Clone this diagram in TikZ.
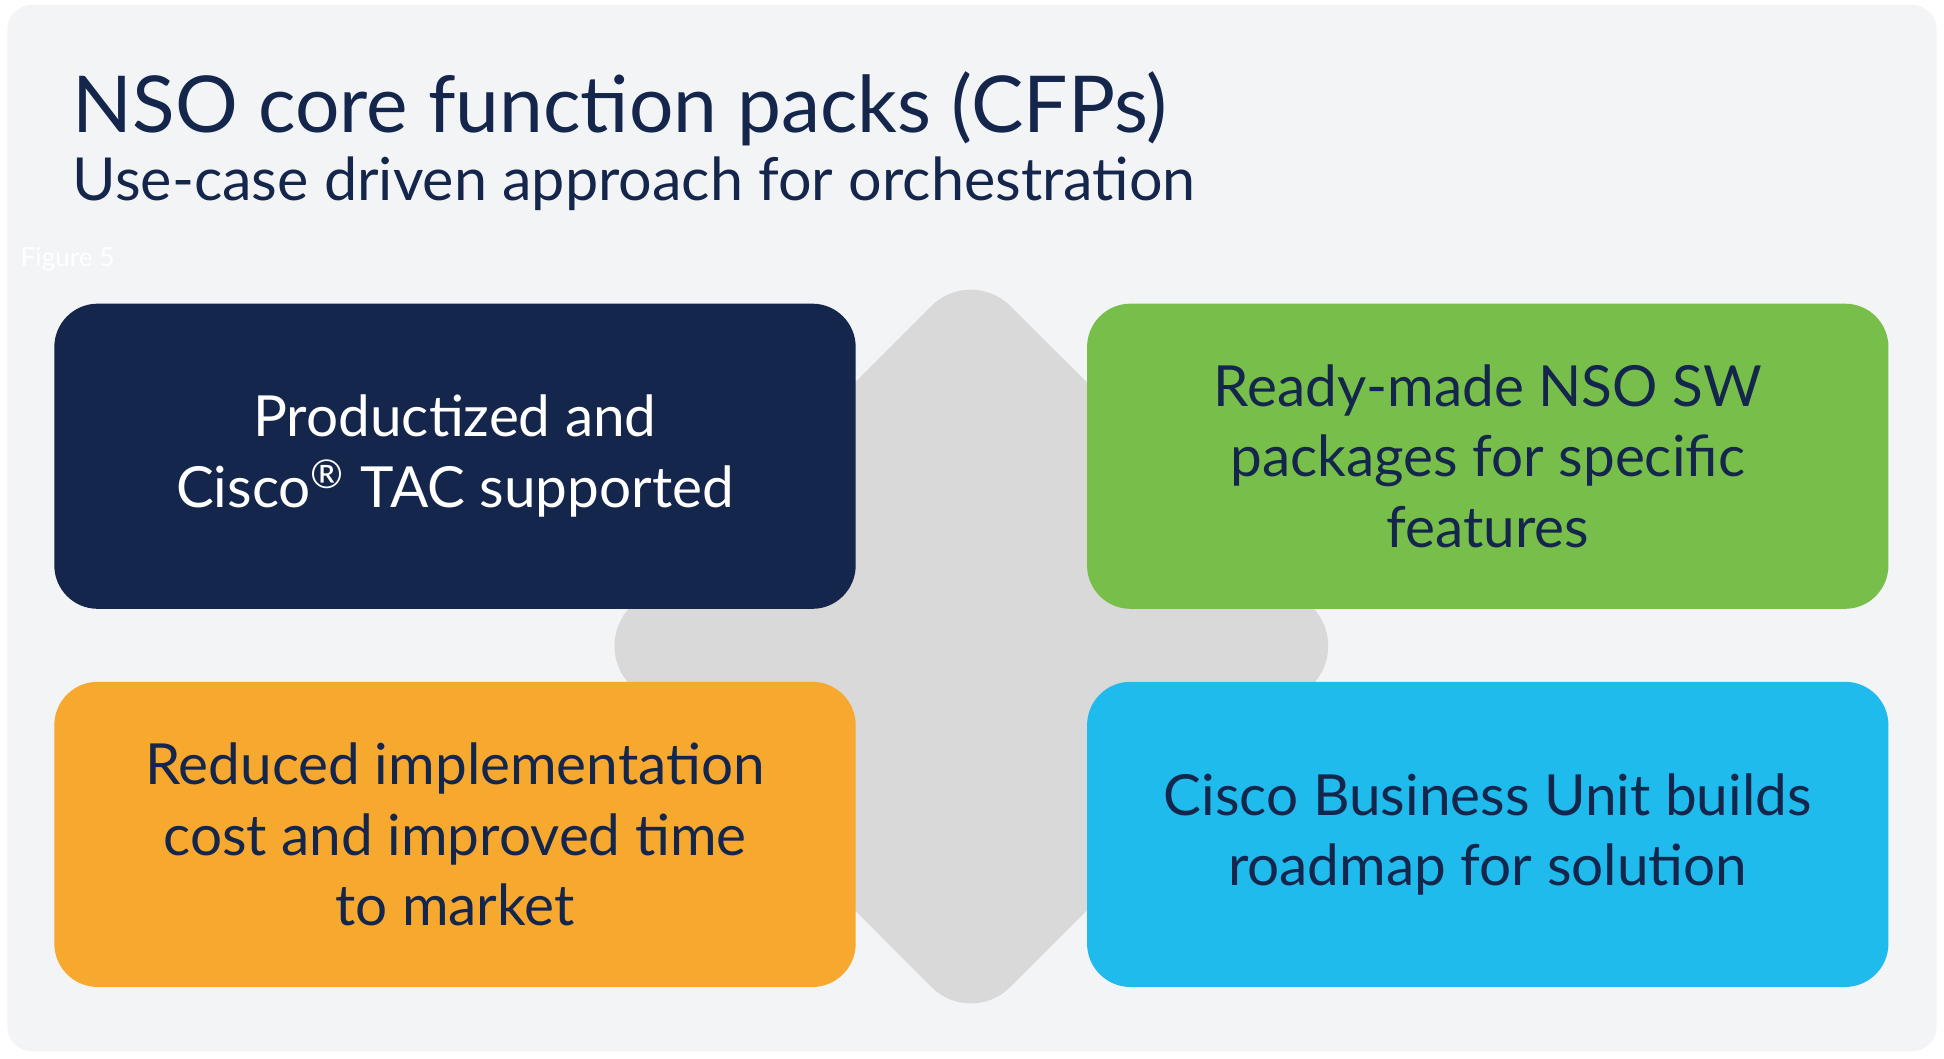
\documentclass[tikz,border=0pt]{standalone}
\usepackage{fontspec}
\setmainfont{Lato}
\definecolor{bgc}{HTML}{F3F4F6}
\definecolor{navy}{HTML}{14264B}
\definecolor{grn}{HTML}{77BF4A}
\definecolor{org}{HTML}{F7A82E}
\definecolor{cyn}{HTML}{1EBBEC}
\definecolor{gry}{HTML}{D9D9D9}
\tikzset{card/.style={rounded corners=0.35cm,minimum width=6.46cm,minimum height=2.46cm,align=center,font=\fontsize{13}{16.2}\selectfont,inner sep=0pt}}
\begin{document}
\begin{tikzpicture}[x=0.01cm,y=-0.01cm]
\useasboundingbox (0,0) rectangle (1568,854);
\fill[white] (0,0) rectangle (1568,854);
\fill[bgc,rounded corners=0.2cm] (6,4) rectangle (1562,848);
\fill[gry,rounded corners=0.45cm] (783,215) -- (1090,521) -- (783,828) -- (477,521) -- cycle;
\node[anchor=base west,text=navy,font=\fontsize{18}{20}\selectfont,inner sep=0] (t) at (58,107) {NSO core function packs (CFPs)};
\node[anchor=base west,text=navy,font=\fontsize{13.6}{16}\selectfont,inner sep=0] (s) at (58,162) {Use-case driven approach for orchestration};
\node[anchor=base west,text=white,font=\fontsize{6}{7}\selectfont,inner sep=0] (f) at (16,215) {Figure 5};
\node[card,fill=navy,text=white] (a) at (367,368) {Productized and\\Cisco\textsuperscript{®} TAC supported};
\node[card,fill=grn,text=navy] (b) at (1200,368) {Ready-made NSO SW\\packages for specific\\features};
\node[card,fill=org,text=navy] (c) at (367,673) {Reduced implementation\\cost and improved time\\to market};
\node[card,fill=cyn,text=navy] (d) at (1200,673) {Cisco Business Unit builds\\roadmap for solution};
\end{tikzpicture}
\end{document}
